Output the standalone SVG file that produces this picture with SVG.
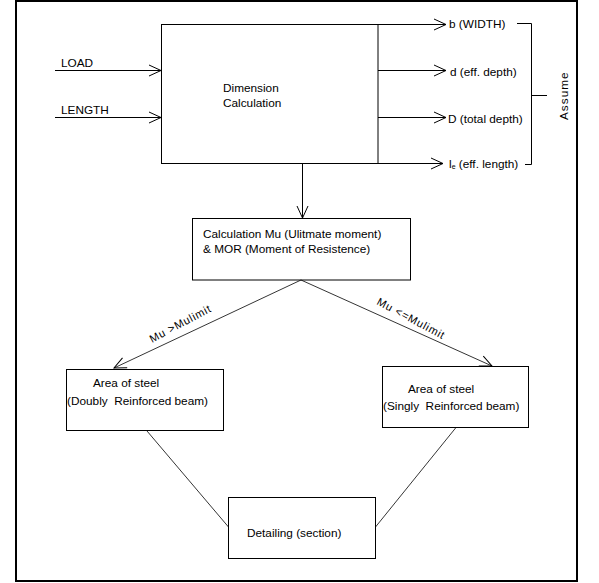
<svg xmlns="http://www.w3.org/2000/svg" width="599" height="583" viewBox="0 0 599 583">
<style>
text{font-family:"Liberation Sans",Arial,sans-serif;font-size:11.8px;fill:#000}
.box{fill:#fff;stroke:#000;stroke-width:1}
.ln{stroke:#000;stroke-width:1;fill:none}
.dg{stroke:#000;stroke-width:0.8;fill:none}
.lbl{font-size:11px;letter-spacing:0.8px}
</style>
<defs>
<marker id="ah" markerUnits="userSpaceOnUse" markerWidth="14" markerHeight="12" refX="12" refY="5.5" orient="auto" overflow="visible">
<path d="M0,0 L12,5.5 L0,11" fill="none" stroke="#000" stroke-width="1"/>
</marker>
</defs>
<rect x="0" y="0" width="599" height="583" fill="#fff"/>
<rect x="16" y="1" width="561" height="580" fill="none" stroke="#000" stroke-width="2"/>

<g id="dimension">
<rect class="box" x="161.5" y="24.5" width="216.5" height="139"/>
<text x="223" y="92">Dimension</text>
<text x="223" y="107">Calculation</text>
</g>

<g id="load"><text x="61" y="67">LOAD</text></g>
<g id="length"><text x="61" y="114">LENGTH</text></g>

<g id="out-b"><text x="449" y="28">b (WIDTH)</text></g>
<g id="out-d"><text x="450" y="76">d (eff. depth)</text></g>
<g id="out-D"><text x="448" y="123">D (total depth)</text></g>
<g id="out-le"><text x="449" y="168">l<tspan font-size="7" dy="1">e</tspan><tspan dy="-1"> (eff. length)</tspan></text></g>

<g id="assume"><text transform="translate(568,120) rotate(-90)" font-size="11" letter-spacing="1">Assume</text></g>

<g id="calc">
<rect class="box" x="192.5" y="218.5" width="218" height="61.5"/>
<text x="203" y="238">Calculation Mu (Ulitmate moment)</text>
<text x="203" y="253">&amp; MOR (Moment of Resistence)</text>
</g>

<g id="doubly">
<rect class="box" x="66.5" y="369.5" width="157" height="61"/>
<text x="93" y="387">Area of steel</text>
<text x="67" y="405" xml:space="preserve">(Doubly  Reinforced beam)</text>
</g>

<g id="singly">
<rect class="box" x="382.5" y="366.5" width="146" height="61"/>
<text x="408" y="393">Area of steel</text>
<text x="383" y="410" xml:space="preserve">(Singly  Reinforced beam)</text>
</g>

<g id="detailing">
<rect class="box" x="228.5" y="497.5" width="147" height="61"/>
<text x="247" y="537">Detailing (section)</text>
</g>

<g id="connectors">
<line class="ln" x1="55" y1="70.5" x2="161" y2="70.5" marker-end="url(#ah)"/>
<line class="ln" x1="55" y1="117.5" x2="161" y2="117.5" marker-end="url(#ah)"/>
<line class="ln" x1="378" y1="24.5" x2="446" y2="24.5" marker-end="url(#ah)"/>
<line class="ln" x1="378" y1="70.5" x2="446" y2="70.5" marker-end="url(#ah)"/>
<line class="ln" x1="378" y1="117.5" x2="446" y2="117.5" marker-end="url(#ah)"/>
<line class="ln" x1="378" y1="163.5" x2="443" y2="163.5" marker-end="url(#ah)"/>
<path class="ln" d="M517,23.5 H531.5 V164.5 H525 M531.5,95.5 H547"/>
<line class="ln" x1="302.5" y1="163.5" x2="302.5" y2="218" marker-end="url(#ah)"/>
<line class="dg" x1="301" y1="280" x2="114" y2="368" marker-end="url(#ah)"/>
<line class="dg" x1="301" y1="280" x2="492" y2="366" marker-end="url(#ah)"/>
<line class="dg" x1="147" y1="431" x2="228.5" y2="527"/>
<line class="dg" x1="456" y1="427.5" x2="375.5" y2="527"/>
<text class="lbl" transform="translate(152,343) rotate(-28)">Mu &gt;Mulimit</text>
<text class="lbl" transform="translate(376,304) rotate(28)">Mu &lt;=Mulimit</text>
</g>
</svg>
